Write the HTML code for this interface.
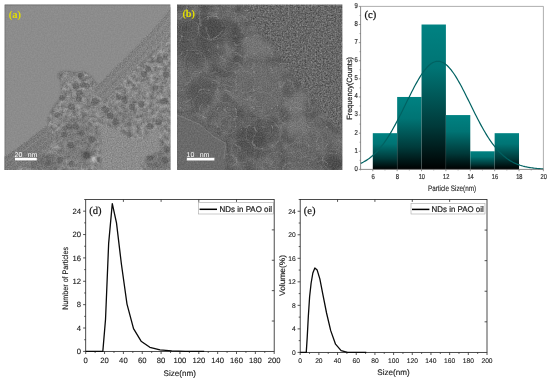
<!DOCTYPE html><html><head><meta charset="utf-8"><title>Figure</title><style>html,body{margin:0;padding:0;background:#fff}svg{display:block}text{font-family:"Liberation Sans",sans-serif;text-rendering:geometricPrecision}.ser{font-family:"Liberation Serif",serif}</style></head><body>
<svg width="550" height="382" viewBox="0 0 550 382">
<rect width="550" height="382" fill="#fff"/>
<defs>
<linearGradient id="tg" x1="0" y1="0" x2="0" y2="1"><stop offset="0" stop-color="#008282"/><stop offset="0.3" stop-color="#007474"/><stop offset="0.7" stop-color="#003a3a"/><stop offset="1" stop-color="#000"/></linearGradient>
<filter id="nA" x="0" y="0" width="100%" height="100%" color-interpolation-filters="sRGB"><feTurbulence type="fractalNoise" baseFrequency="0.7" numOctaves="2" seed="3" result="t"/><feColorMatrix in="t" type="matrix" values="1 0 0 0 0  1 0 0 0 0  1 0 0 0 0  0 0 0 0 1" result="g"/><feComposite in="SourceGraphic" in2="g" operator="arithmetic" k1="0" k2="1" k3="0.07" k4="-0.035" result="r"/><feComposite in="r" in2="SourceGraphic" operator="in"/></filter>
<filter id="nA2" x="0" y="0" width="100%" height="100%" color-interpolation-filters="sRGB"><feTurbulence type="fractalNoise" baseFrequency="0.8" numOctaves="2" seed="4" result="t"/><feColorMatrix in="t" type="matrix" values="1 0 0 0 0  1 0 0 0 0  1 0 0 0 0  0 0 0 0 1" result="g"/><feComposite in="SourceGraphic" in2="g" operator="arithmetic" k1="0" k2="1" k3="0.22" k4="-0.11" result="r"/><feComposite in="r" in2="SourceGraphic" operator="in"/></filter>
<filter id="nB" x="0" y="0" width="100%" height="100%" color-interpolation-filters="sRGB"><feTurbulence type="fractalNoise" baseFrequency="0.8" numOctaves="2" seed="11" result="t"/><feColorMatrix in="t" type="matrix" values="1 0 0 0 0  1 0 0 0 0  1 0 0 0 0  0 0 0 0 1" result="g"/><feComposite in="SourceGraphic" in2="g" operator="arithmetic" k1="0" k2="1" k3="0.2" k4="-0.1" result="r"/><feComposite in="r" in2="SourceGraphic" operator="in"/></filter>
<filter id="nB2" x="0" y="0" width="100%" height="100%" color-interpolation-filters="sRGB"><feTurbulence type="fractalNoise" baseFrequency="0.7" numOctaves="2" seed="12" result="t"/><feColorMatrix in="t" type="matrix" values="1 0 0 0 0  1 0 0 0 0  1 0 0 0 0  0 0 0 0 1" result="g"/><feComposite in="SourceGraphic" in2="g" operator="arithmetic" k1="0" k2="1" k3="0.14" k4="-0.07" result="r"/><feComposite in="r" in2="SourceGraphic" operator="in"/></filter>
<filter id="pA" x="-10%" y="-10%" width="120%" height="120%" color-interpolation-filters="sRGB"><feTurbulence type="fractalNoise" baseFrequency="0.22" numOctaves="2" seed="5" result="t"/><feColorMatrix in="t" type="matrix" values="0.32 0 0 0 0.365  0.32 0 0 0 0.365  0.32 0 0 0 0.365  0 0 0 0 1" result="g"/><feGaussianBlur in="SourceAlpha" stdDeviation="1.2" result="m"/><feComposite in="g" in2="m" operator="in"/></filter>
<filter id="pB" x="-10%" y="-10%" width="120%" height="120%" color-interpolation-filters="sRGB"><feTurbulence type="fractalNoise" baseFrequency="0.09" numOctaves="3" seed="21" result="t"/><feColorMatrix in="t" type="matrix" values="0.2 0 0 0 0.29500000000000004  0.2 0 0 0 0.29500000000000004  0.2 0 0 0 0.29500000000000004  0 0 0 0 1" result="g"/><feGaussianBlur in="SourceAlpha" stdDeviation="2.5" result="m"/><feComposite in="g" in2="m" operator="in"/></filter>
<filter id="vB" x="0" y="0" width="100%" height="100%" color-interpolation-filters="sRGB"><feTurbulence type="turbulence" baseFrequency="0.055" numOctaves="2" seed="7" result="t"/><feColorMatrix in="t" type="matrix" values="0 0 0 0 0.62  0 0 0 0 0.62  0 0 0 0 0.62  -5 0 0 0 0.45" result="g"/><feComposite in="g" in2="SourceGraphic" operator="in"/></filter>
<filter id="gB" x="-10%" y="-10%" width="120%" height="120%" color-interpolation-filters="sRGB"><feTurbulence type="fractalNoise" baseFrequency="0.6" numOctaves="2" seed="33" result="t"/><feColorMatrix in="t" type="matrix" values="0.36 0 0 0 0.22500000000000003  0.36 0 0 0 0.22500000000000003  0.36 0 0 0 0.22500000000000003  0 0 0 0 1" result="g"/><feGaussianBlur in="SourceAlpha" stdDeviation="1.5" result="m"/><feComposite in="g" in2="m" operator="in"/></filter>
<filter id="b05" x="-30%" y="-30%" width="160%" height="160%"><feGaussianBlur stdDeviation="0.5"/></filter>
<filter id="b1" x="-30%" y="-30%" width="160%" height="160%"><feGaussianBlur stdDeviation="1"/></filter>
<filter id="b2" x="-30%" y="-30%" width="160%" height="160%"><feGaussianBlur stdDeviation="2"/></filter>
<filter id="b3" x="-30%" y="-30%" width="160%" height="160%"><feGaussianBlur stdDeviation="3"/></filter>
<filter id="b4" x="-30%" y="-30%" width="160%" height="160%"><feGaussianBlur stdDeviation="4"/></filter>
<filter id="b8" x="-30%" y="-30%" width="160%" height="160%"><feGaussianBlur stdDeviation="8"/></filter>
<linearGradient id="bandg" gradientUnits="userSpaceOnUse" x1="10" y1="160" x2="165" y2="20"><stop offset="0" stop-color="#787878"/><stop offset="0.4" stop-color="#7e7e7e"/><stop offset="1" stop-color="#858585"/></linearGradient>
<clipPath id="cA"><rect x="4.6" y="4.5" width="165.8" height="165.5"/></clipPath>
<clipPath id="cB"><rect x="177" y="4.4" width="165.4" height="165.6"/></clipPath>
</defs>
<g clip-path="url(#cA)">
<g filter="url(#nA)">
<rect x="0" y="0" width="176" height="176" fill="#8c8c8c"/>
</g>
<g filter="url(#nA2)">
<path d="M-2,160 L4,156.5 L19.2,146 L38.4,131.5 L47.5,124 L56,118 L97.9,84.4 L108.7,73.5 L130.5,52 L152,30 L170,8.3 L176,0 L178,24 L170,33 L157,47 L141,62 L119.6,84 L100,104 L80,125 L60.5,141 L38,155 L17,170 L-2,182 Z" fill="url(#bandg)"/>
<path d="M-2,160 L4,156.5 L19.2,146 L38.4,131.5 L47.5,124 L56,118 L97.9,84.4 L108.7,73.5 L130.5,52 L152,30 L170,8.3 L176,0" fill="none" stroke="#9c9c9c" stroke-width="0.9" filter="url(#b05)"/>
<path d="M-1,161 L5,157.5 L20.2,147 L39.4,132.5 L48.5,125 L57,119 L98.9,85.4 L109.7,74.5 L131.5,53 L153,31 L171,9.3 L177,1" fill="none" stroke="#797979" stroke-width="0.9" filter="url(#b05)"/>
<path d="M0.52,162.52 L6.52,159.02 L21.72,148.52 L40.92,134.02 L50.02,126.52 L58.52,120.52 L100.42,86.92 L111.22,76.02 L133.02,54.52 L154.52,32.52 L172.52,10.82 L178.52,2.52" fill="none" stroke="#767676" stroke-width="1.6" opacity="0.38" filter="url(#b05)"/>
<path d="M2.6799999999999997,164.68 L8.68,161.18 L23.88,150.68 L43.08,136.18 L52.18,128.68 L60.68,122.68 L102.58000000000001,89.08000000000001 L113.38,78.18 L135.18,56.68 L156.68,34.68 L174.68,12.98 L180.68,4.68" fill="none" stroke="#8e8e8e" stroke-width="1.2" opacity="0.38" filter="url(#b05)"/>
<path d="M4.84,166.84 L10.84,163.34 L26.04,152.84 L45.239999999999995,138.34 L54.34,130.84 L62.84,124.84 L104.74000000000001,91.24000000000001 L115.54,80.34 L137.34,58.84 L158.84,36.84 L176.84,15.14 L182.84,6.84" fill="none" stroke="#767676" stroke-width="1.6" opacity="0.38" filter="url(#b05)"/>
<path d="M7.0,169.0 L13.0,165.5 L28.2,155.0 L47.4,140.5 L56.5,133.0 L65.0,127.0 L106.9,93.4 L117.7,82.5 L139.5,61.0 L161.0,39.0 L179.0,17.3 L185.0,9.0" fill="none" stroke="#8c8c8c" stroke-width="1.0" opacity="0.38" filter="url(#b05)"/>
<path d="M56.8,75 L60.7,71.8 L68.5,71 L76.4,72.6 L84.2,71.5 L90.5,75.7 L95.2,81.2 L97,84 L94,91 L103,102 L119.6,84 L141,62 L157,47 L170,33 L178,24 L178,178 L17,178 L17,170 L38,155 L50,147 L56,138 L49,126 L47.4,120 L49.7,113.4 L54.4,105.5 L59.9,99.2 L61.5,91.4 L60.7,80.4 Z" fill="#8d8d8d" filter="url(#b1)"/>
<g filter="url(#pA)"><path d="M56.8,75 L60.7,71.8 L68.5,71 L76.4,72.6 L84.2,71.5 L90.5,75.7 L95.2,81.2 L97,84 L94,91 L103,102 L119.6,84 L141,62 L157,47 L170,33 L178,24 L178,178 L17,178 L17,170 L38,155 L50,147 L56,138 L49,126 L47.4,120 L49.7,113.4 L54.4,105.5 L59.9,99.2 L61.5,91.4 L60.7,80.4 Z" fill="#000"/></g>
<path d="M-2,182 L17,170 L38,155 L60.5,141 L80,125 L100,104 L119.6,84 L141,62 L157,47 L170,33 L178,24" fill="none" stroke="#989898" stroke-width="0.8" filter="url(#b05)" opacity="0.7"/>
<ellipse cx="44" cy="163" rx="18" ry="10" fill="#666" opacity="0.65" filter="url(#b3)"/>
<ellipse cx="158" cy="162" rx="13" ry="11" fill="#666" opacity="0.6" filter="url(#b3)"/>
<ellipse cx="78" cy="140" rx="20" ry="24" fill="#6c6c6c" opacity="0.4" filter="url(#b3)"/>
<ellipse cx="120" cy="116" rx="18" ry="10" fill="#6c6c6c" opacity="0.3" filter="url(#b3)"/>
<g fill="#585858" opacity="0.55" filter="url(#b05)" stroke="#585858" stroke-width="0.6"><circle cx="81" cy="76" r="3"/><circle cx="76" cy="86" r="3"/><circle cx="83" cy="85" r="2.6"/><circle cx="87" cy="86" r="2.6"/><circle cx="79" cy="93" r="3"/><circle cx="62" cy="98" r="2.6"/><circle cx="72" cy="107" r="3"/><circle cx="57" cy="115" r="2.6"/><circle cx="95" cy="101" r="3"/><circle cx="124" cy="99" r="3"/><circle cx="119" cy="97" r="2.6"/><circle cx="132" cy="107" r="3"/><circle cx="144" cy="74" r="3"/><circle cx="148" cy="69" r="2.6"/><circle cx="106" cy="110" r="2.6"/><circle cx="110" cy="116" r="3"/><circle cx="141" cy="104" r="3"/><circle cx="69.4" cy="126.4" r="3"/><circle cx="75.7" cy="126.4" r="3"/><circle cx="70.5" cy="145" r="3.2"/><circle cx="104" cy="108.6" r="2.6"/><circle cx="115.5" cy="122" r="3"/><circle cx="123" cy="132.7" r="3"/><circle cx="129" cy="134.8" r="2.6"/><circle cx="125" cy="101" r="2.6"/><circle cx="150" cy="126.4" r="3"/><circle cx="158.4" cy="122" r="3"/><circle cx="164.7" cy="101" r="3"/><circle cx="160.5" cy="143" r="3"/><circle cx="150" cy="157.8" r="3"/><circle cx="164.7" cy="160" r="3"/><circle cx="166.8" cy="149.5" r="3"/><circle cx="78.8" cy="99" r="2.6"/><circle cx="93.5" cy="103.4" r="2.6"/><circle cx="160" cy="60" r="3"/><circle cx="166" cy="75" r="2.8"/><circle cx="155" cy="88" r="2.8"/><circle cx="60" cy="160" r="3"/><circle cx="72" cy="164" r="3"/><circle cx="48" cy="163" r="2.8"/><circle cx="100" cy="160" r="2.6"/><circle cx="92" cy="140" r="2.8"/><circle cx="82" cy="133" r="2.6"/><circle cx="64" cy="135" r="2.6"/></g>
<path d="M101,125 L119.6,130.5 L130.5,139 L143.5,141 L150,131 L158,131 L161,150 L143,158 L140,172 L101,172 Z" fill="#8c8c8c" filter="url(#b1)"/>
<circle cx="86.4" cy="155" r="4" fill="#525252" filter="url(#b1)"/>
<circle cx="93.7" cy="158.5" r="2.3" fill="#c8c8c8" filter="url(#b1)"/>
</g>
<path d="M4.9,170 V4.9 H170.4" fill="none" stroke="#666" stroke-width="0.9" opacity="0.85"/>
<rect x="15" y="157.8" width="21.8" height="2.6" fill="#fff"/>
<text x="14.6" y="157" font-size="7" fill="#fff" word-spacing="3.4" style="white-space:pre">20 nm</text>
<text class="ser" x="8.7" y="18.1" font-size="10.5" font-weight="bold" fill="#e4e000">(a)</text>
</g>
<g clip-path="url(#cB)"><g filter="url(#nB)">
<rect x="170" y="0" width="180" height="176" fill="#646464"/>
<g filter="url(#pB)"><rect x="170" y="0" width="180" height="176" fill="#000"/></g>
<ellipse cx="212" cy="28" rx="14" ry="12" fill="#4c4c4c" opacity="0.85" filter="url(#b3)"/>
<ellipse cx="235" cy="34" rx="5" ry="11" fill="#484848" opacity="0.8" filter="url(#b3)"/>
<ellipse cx="256" cy="47" rx="13" ry="12" fill="#787878" opacity="0.85" filter="url(#b3)"/>
<ellipse cx="201" cy="93" rx="13" ry="13" fill="#565656" opacity="0.8" filter="url(#b3)"/>
<ellipse cx="180" cy="86" rx="5" ry="26" fill="#707070" opacity="0.7" filter="url(#b3)"/>
<ellipse cx="260" cy="86" rx="26" ry="26" fill="#6e6e6e" opacity="0.75" filter="url(#b3)"/>
<ellipse cx="297" cy="104" rx="10" ry="11" fill="#7a7a7a" opacity="0.85" filter="url(#b3)"/>
<ellipse cx="290" cy="90" rx="4.5" ry="6" fill="#555" opacity="0.8" filter="url(#b3)"/>
<ellipse cx="308.5" cy="107.5" rx="3" ry="3.5" fill="#505050" opacity="0.8" filter="url(#b3)"/>
<ellipse cx="251" cy="140" rx="15" ry="17" fill="#4e4e4e" opacity="0.8" filter="url(#b3)"/>
<ellipse cx="271" cy="126" rx="9" ry="8" fill="#545454" opacity="0.75" filter="url(#b3)"/>
<ellipse cx="299" cy="125" rx="12" ry="11" fill="#787878" opacity="0.8" filter="url(#b3)"/>
<ellipse cx="318" cy="140" rx="14" ry="14" fill="#6c6c6c" opacity="0.7" filter="url(#b3)"/>
<ellipse cx="334" cy="163" rx="10" ry="9" fill="#464646" opacity="0.85" filter="url(#b3)"/>
<ellipse cx="300" cy="158" rx="14" ry="10" fill="#6a6a6a" opacity="0.6" filter="url(#b3)"/>
<ellipse cx="222" cy="112" rx="10" ry="8" fill="#686868" opacity="0.6" filter="url(#b3)"/>
<ellipse cx="198" cy="40" rx="24" ry="26" fill="#4e4e4e" opacity="0.5" filter="url(#b3)"/>
<ellipse cx="204.4" cy="104.4" rx="11" ry="12" transform="rotate(0 204.4 104.4)" fill="none" stroke="#909090" stroke-width="0.7" opacity="0.4" filter="url(#b05)"/>
<ellipse cx="224.5" cy="93.5" rx="9" ry="9" transform="rotate(0 224.5 93.5)" fill="none" stroke="#909090" stroke-width="0.7" opacity="0.4" filter="url(#b05)"/>
<ellipse cx="212" cy="117.5" rx="9" ry="7" transform="rotate(20 212 117.5)" fill="none" stroke="#909090" stroke-width="0.7" opacity="0.4" filter="url(#b05)"/>
<ellipse cx="288" cy="92" rx="7.5" ry="7.5" transform="rotate(0 288 92)" fill="none" stroke="#909090" stroke-width="0.7" opacity="0.4" filter="url(#b05)"/>
<ellipse cx="308.7" cy="109" rx="4" ry="4" transform="rotate(0 308.7 109)" fill="none" stroke="#909090" stroke-width="0.7" opacity="0.4" filter="url(#b05)"/>
<ellipse cx="291" cy="113" rx="14" ry="11" transform="rotate(-20 291 113)" fill="none" stroke="#909090" stroke-width="0.7" opacity="0.4" filter="url(#b05)"/>
<ellipse cx="263" cy="134" rx="17" ry="16" transform="rotate(0 263 134)" fill="none" stroke="#909090" stroke-width="0.7" opacity="0.4" filter="url(#b05)"/>
<ellipse cx="243" cy="150.7" rx="12" ry="12" transform="rotate(0 243 150.7)" fill="none" stroke="#909090" stroke-width="0.7" opacity="0.4" filter="url(#b05)"/>
<ellipse cx="263" cy="104" rx="14" ry="12" transform="rotate(10 263 104)" fill="none" stroke="#909090" stroke-width="0.7" opacity="0.4" filter="url(#b05)"/>
<ellipse cx="311" cy="144.5" rx="12" ry="15" transform="rotate(0 311 144.5)" fill="none" stroke="#909090" stroke-width="0.7" opacity="0.4" filter="url(#b05)"/>
<ellipse cx="334" cy="160" rx="11" ry="11" transform="rotate(0 334 160)" fill="none" stroke="#909090" stroke-width="0.7" opacity="0.4" filter="url(#b05)"/>
<ellipse cx="212" cy="28" rx="14" ry="12" transform="rotate(0 212 28)" fill="none" stroke="#909090" stroke-width="0.7" opacity="0.4" filter="url(#b05)"/>
<ellipse cx="256" cy="47" rx="13" ry="12" transform="rotate(30 256 47)" fill="none" stroke="#909090" stroke-width="0.7" opacity="0.4" filter="url(#b05)"/>
<ellipse cx="232" cy="62" rx="12" ry="10" transform="rotate(0 232 62)" fill="none" stroke="#909090" stroke-width="0.7" opacity="0.4" filter="url(#b05)"/>
<ellipse cx="195" cy="62" rx="11" ry="12" transform="rotate(0 195 62)" fill="none" stroke="#909090" stroke-width="0.7" opacity="0.4" filter="url(#b05)"/>
<ellipse cx="245" cy="82" rx="10" ry="11" transform="rotate(0 245 82)" fill="none" stroke="#909090" stroke-width="0.7" opacity="0.4" filter="url(#b05)"/>
<ellipse cx="300" cy="150" rx="9" ry="8" transform="rotate(0 300 150)" fill="none" stroke="#909090" stroke-width="0.7" opacity="0.4" filter="url(#b05)"/>
<ellipse cx="276" cy="160" rx="10" ry="8" transform="rotate(0 276 160)" fill="none" stroke="#909090" stroke-width="0.7" opacity="0.4" filter="url(#b05)"/>
<ellipse cx="190" cy="30" rx="9" ry="10" transform="rotate(0 190 30)" fill="none" stroke="#909090" stroke-width="0.7" opacity="0.4" filter="url(#b05)"/>
<ellipse cx="228" cy="125" rx="8" ry="9" transform="rotate(0 228 125)" fill="none" stroke="#909090" stroke-width="0.7" opacity="0.4" filter="url(#b05)"/>
<g filter="url(#vB)"><path d="M170,0 L238,0 L246,15 L270,45 L300,85 L320,110 L350,140 L350,176 L227,176 L224,159 L226,143.5 L214,137 L199,124 L177,115 L170,114 Z" fill="#000"/></g>
<g filter="url(#gB)"><path d="M238,0 L246,15 L270,45 L300,85 L320,110 L350,140 L350,0 Z" fill="#000"/></g>
</g>
<g filter="url(#nB2)"><path d="M170,114 L177,115 L199,124 L214,137 L226,143.5 L224,159 L227,176 L170,176 Z" fill="#6a6a6a" filter="url(#b05)"/></g>
<path d="M177,115 L199,124 L214,137 L226,143.5 L224,159" fill="none" stroke="#939393" stroke-width="0.8" opacity="0.7" filter="url(#b05)"/>
<rect x="186.8" y="157.8" width="27.6" height="2.7" fill="#fff"/>
<text x="186.6" y="157" font-size="7" fill="#fff" word-spacing="3.4" style="white-space:pre">10 nm</text>
<text class="ser" x="182.4" y="17.2" font-size="10.3" font-weight="bold" fill="#e4e000">(b)</text>
</g>
<rect x="372.79" y="133.18" width="24.37" height="36.22" fill="url(#tg)"/>
<rect x="397.16" y="96.96" width="24.37" height="72.44" fill="url(#tg)"/>
<rect x="421.53" y="24.51" width="24.37" height="144.89" fill="url(#tg)"/>
<rect x="445.91" y="115.07" width="24.37" height="54.33" fill="url(#tg)"/>
<rect x="470.28" y="151.29" width="24.37" height="18.11" fill="url(#tg)"/>
<rect x="494.65" y="133.18" width="24.37" height="36.22" fill="url(#tg)"/>
<line x1="397.16" y1="133.18" x2="397.16" y2="169.4" stroke="#5a9a9a" stroke-opacity="0.22" stroke-width="0.5"/>
<line x1="421.53" y1="96.96" x2="421.53" y2="169.4" stroke="#5a9a9a" stroke-opacity="0.22" stroke-width="0.5"/>
<line x1="445.91" y1="115.07" x2="445.91" y2="169.4" stroke="#5a9a9a" stroke-opacity="0.22" stroke-width="0.5"/>
<line x1="470.28" y1="151.29" x2="470.28" y2="169.4" stroke="#5a9a9a" stroke-opacity="0.22" stroke-width="0.5"/>
<line x1="494.65" y1="151.29" x2="494.65" y2="169.4" stroke="#5a9a9a" stroke-opacity="0.22" stroke-width="0.5"/>
<polyline points="360.60,163.41 361.82,162.84 363.04,162.23 364.26,161.57 365.47,160.87 366.69,160.12 367.91,159.31 369.13,158.45 370.35,157.54 371.57,156.56 372.79,155.53 374.01,154.43 375.22,153.27 376.44,152.05 377.66,150.76 378.88,149.40 380.10,147.97 381.32,146.48 382.54,144.91 383.75,143.28 384.97,141.58 386.19,139.81 387.41,137.97 388.63,136.07 389.85,134.10 391.07,132.07 392.29,129.97 393.50,127.82 394.72,125.62 395.94,123.37 397.16,121.06 398.38,118.72 399.60,116.34 400.82,113.93 402.03,111.49 403.25,109.03 404.47,106.55 405.69,104.07 406.91,101.59 408.13,99.11 409.35,96.65 410.57,94.20 411.78,91.79 413.00,89.42 414.22,87.09 415.44,84.82 416.66,82.60 417.88,80.46 419.10,78.39 420.31,76.41 421.53,74.53 422.75,72.74 423.97,71.06 425.19,69.50 426.41,68.06 427.63,66.74 428.85,65.55 430.06,64.50 431.28,63.60 432.50,62.84 433.72,62.22 434.94,61.76 436.16,61.45 437.38,61.30 438.59,61.30 439.81,61.45 441.03,61.76 442.25,62.22 443.47,62.84 444.69,63.60 445.91,64.50 447.13,65.55 448.34,66.74 449.56,68.06 450.78,69.50 452.00,71.06 453.22,72.74 454.44,74.53 455.66,76.41 456.87,78.39 458.09,80.46 459.31,82.60 460.53,84.82 461.75,87.09 462.97,89.42 464.19,91.79 465.41,94.20 466.62,96.65 467.84,99.11 469.06,101.59 470.28,104.07 471.50,106.55 472.72,109.03 473.94,111.49 475.15,113.93 476.37,116.34 477.59,118.72 478.81,121.06 480.03,123.37 481.25,125.62 482.47,127.82 483.69,129.97 484.90,132.07 486.12,134.10 487.34,136.07 488.56,137.97 489.78,139.81 491.00,141.58 492.22,143.28 493.43,144.91 494.65,146.48 495.87,147.97 497.09,149.40 498.31,150.76 499.53,152.05 500.75,153.27 501.97,154.43 503.18,155.53 504.40,156.56 505.62,157.54 506.84,158.45 508.06,159.31 509.28,160.12 510.50,160.87 511.71,161.57 512.93,162.23 514.15,162.84 515.37,163.41 516.59,163.93 517.81,164.42 519.03,164.87 520.25,165.29 521.46,165.67 522.68,166.02 523.90,166.34 525.12,166.64 526.34,166.91 527.56,167.16 528.78,167.38 529.99,167.59 531.21,167.78 532.43,167.95 533.65,168.10 534.87,168.24 536.09,168.37 537.31,168.48 538.53,168.58 539.74,168.67 540.96,168.76 542.18,168.83 543.40,168.90" fill="none" stroke="#006262" stroke-width="1.2"/>
<path d="M360.6,6.4 H543.4 V169.4" fill="none" stroke="#8c8c8c" stroke-width="0.7"/>
<path d="M360.6,6.4 V169.4 H543.4" fill="none" stroke="#6e6e6e" stroke-width="0.8"/>
<path d="M360.6,169.40 h-1.8 M360.6,160.34 h-1.0 M360.6,151.29 h-1.8 M360.6,142.23 h-1.0 M360.6,133.18 h-1.8 M360.6,124.12 h-1.0 M360.6,115.07 h-1.8 M360.6,106.01 h-1.0 M360.6,96.96 h-1.8 M360.6,87.90 h-1.0 M360.6,78.84 h-1.8 M360.6,69.79 h-1.0 M360.6,60.73 h-1.8 M360.6,51.68 h-1.0 M360.6,42.62 h-1.8 M360.6,33.57 h-1.0 M360.6,24.51 h-1.8 M360.6,15.46 h-1.0 M360.6,6.40 h-1.8 M360.60,169.4 v1.0 M372.79,169.4 v1.8 M384.97,169.4 v1.0 M397.16,169.4 v1.8 M409.35,169.4 v1.0 M421.53,169.4 v1.8 M433.72,169.4 v1.0 M445.91,169.4 v1.8 M458.09,169.4 v1.0 M470.28,169.4 v1.8 M482.47,169.4 v1.0 M494.65,169.4 v1.8 M506.84,169.4 v1.0 M519.03,169.4 v1.8 M531.21,169.4 v1.0 M543.40,169.4 v1.8" stroke="#6e6e6e" stroke-width="0.7" fill="none"/>
<g font-size="7.2" fill="#333" stroke="#333" stroke-width="0.2">
<text x="357.70000000000005" y="170.80" text-anchor="end" textLength="3.3" lengthAdjust="spacingAndGlyphs">0</text>
<text x="357.70000000000005" y="152.69" text-anchor="end" textLength="3.3" lengthAdjust="spacingAndGlyphs">1</text>
<text x="357.70000000000005" y="134.58" text-anchor="end" textLength="3.3" lengthAdjust="spacingAndGlyphs">2</text>
<text x="357.70000000000005" y="116.47" text-anchor="end" textLength="3.3" lengthAdjust="spacingAndGlyphs">3</text>
<text x="357.70000000000005" y="98.36" text-anchor="end" textLength="3.3" lengthAdjust="spacingAndGlyphs">4</text>
<text x="357.70000000000005" y="80.24" text-anchor="end" textLength="3.3" lengthAdjust="spacingAndGlyphs">5</text>
<text x="357.70000000000005" y="62.13" text-anchor="end" textLength="3.3" lengthAdjust="spacingAndGlyphs">6</text>
<text x="357.70000000000005" y="44.02" text-anchor="end" textLength="3.3" lengthAdjust="spacingAndGlyphs">7</text>
<text x="357.70000000000005" y="25.91" text-anchor="end" textLength="3.3" lengthAdjust="spacingAndGlyphs">8</text>
<text x="357.70000000000005" y="7.80" text-anchor="end" textLength="3.3" lengthAdjust="spacingAndGlyphs">9</text>
<text x="373.09" y="179.00" text-anchor="middle" textLength="3.3" lengthAdjust="spacingAndGlyphs">6</text>
<text x="397.46" y="179.00" text-anchor="middle" textLength="3.3" lengthAdjust="spacingAndGlyphs">8</text>
<text x="421.83" y="179.00" text-anchor="middle" textLength="6.3" lengthAdjust="spacingAndGlyphs">10</text>
<text x="446.21" y="179.00" text-anchor="middle" textLength="6.3" lengthAdjust="spacingAndGlyphs">12</text>
<text x="470.58" y="179.00" text-anchor="middle" textLength="6.3" lengthAdjust="spacingAndGlyphs">14</text>
<text x="494.95" y="179.00" text-anchor="middle" textLength="6.3" lengthAdjust="spacingAndGlyphs">16</text>
<text x="519.33" y="179.00" text-anchor="middle" textLength="6.3" lengthAdjust="spacingAndGlyphs">18</text>
<text x="543.70" y="179.00" text-anchor="middle" textLength="6.3" lengthAdjust="spacingAndGlyphs">20</text>
</g>
<text x="452" y="190.6" font-size="8" fill="#2a2a2a" stroke="#2a2a2a" stroke-width="0.15" text-anchor="middle" textLength="48" lengthAdjust="spacingAndGlyphs">Particle Size(nm)</text>
<text transform="translate(351.8,88.4) rotate(-90)" font-size="7.6" fill="#1e1e1e" stroke="#1e1e1e" stroke-width="0.2" text-anchor="middle" textLength="62.8" lengthAdjust="spacingAndGlyphs">Frequency(Counts)</text>
<text class="ser" x="364.5" y="18.2" font-size="10.5" fill="#111" stroke="#111" stroke-width="0.25">(c)</text>
<rect x="198.6" y="202.6" width="75.00" height="11.40" fill="#fff" stroke="#a8a8a8" stroke-width="0.6"/>
<line x1="199.6" y1="209.3" x2="217" y2="209.3" stroke="#000" stroke-width="1.5"/>
<text x="219.6" y="211.9" font-size="8.2" fill="#1a1a1a" stroke="#1a1a1a" stroke-width="0.2" textLength="52.4" lengthAdjust="spacingAndGlyphs">NDs in PAO oil</text>
<rect x="85.7" y="199.5" width="188.50" height="151.90" fill="none" stroke="#2c2c2c" stroke-width="0.85"/>
<path d="M85.7,351.40 h-2.6 M85.7,339.72 h-1.5 M85.7,328.03 h-2.6 M85.7,316.35 h-1.5 M85.7,304.66 h-2.6 M85.7,292.98 h-1.5 M85.7,281.29 h-2.6 M85.7,269.61 h-1.5 M85.7,257.92 h-2.6 M85.7,246.24 h-1.5 M85.7,234.55 h-2.6 M85.7,222.87 h-1.5 M85.7,211.18 h-2.6 M85.7,199.50 h-1.5 M85.70,351.4 v2.6 M95.12,351.4 v1.5 M104.55,351.4 v2.6 M113.97,351.4 v1.5 M123.40,351.4 v2.6 M132.82,351.4 v1.5 M142.25,351.4 v2.6 M151.68,351.4 v1.5 M161.10,351.4 v2.6 M170.53,351.4 v1.5 M179.95,351.4 v2.6 M189.38,351.4 v1.5 M198.80,351.4 v2.6 M208.23,351.4 v1.5 M217.65,351.4 v2.6 M227.07,351.4 v1.5 M236.50,351.4 v2.6 M245.93,351.4 v1.5 M255.35,351.4 v2.6 M264.77,351.4 v1.5 M274.20,351.4 v2.6 M123.40,199.5 v2.4 M274.2,229.88 h-2.4 M161.10,199.5 v2.4 M274.2,260.26 h-2.4 M198.80,199.5 v2.4 M274.2,290.64 h-2.4 M236.50,199.5 v2.4 M274.2,321.02 h-2.4" stroke="#2c2c2c" stroke-width="0.8" fill="none"/>
<g font-size="7.7" fill="#161616" stroke="#161616" stroke-width="0.1">
<text x="81.10000000000001" y="354.17" text-anchor="end">0</text>
<text x="81.10000000000001" y="330.80" text-anchor="end">4</text>
<text x="81.10000000000001" y="307.43" text-anchor="end">8</text>
<text x="81.10000000000001" y="284.06" text-anchor="end">12</text>
<text x="81.10000000000001" y="260.70" text-anchor="end">16</text>
<text x="81.10000000000001" y="237.33" text-anchor="end">20</text>
<text x="81.10000000000001" y="213.96" text-anchor="end">24</text>
<text x="85.70" y="363.3" text-anchor="middle">0</text>
<text x="104.55" y="363.3" text-anchor="middle">20</text>
<text x="123.40" y="363.3" text-anchor="middle">40</text>
<text x="142.25" y="363.3" text-anchor="middle">60</text>
<text x="161.10" y="363.3" text-anchor="middle">80</text>
<text x="179.95" y="363.3" text-anchor="middle">100</text>
<text x="198.80" y="363.3" text-anchor="middle">120</text>
<text x="217.65" y="363.3" text-anchor="middle">140</text>
<text x="236.50" y="363.3" text-anchor="middle">160</text>
<text x="255.35" y="363.3" text-anchor="middle">180</text>
<text x="274.20" y="363.3" text-anchor="middle">200</text>
</g>
<text x="179.8" y="375.6" font-size="8.1" fill="#1e1e1e" stroke="#1e1e1e" stroke-width="0.15" text-anchor="middle">Size(nm)</text>
<text transform="translate(68.3,278.4) rotate(-90)" font-size="8" fill="#1e1e1e" stroke="#1e1e1e" stroke-width="0.15" text-anchor="middle" textLength="62.8" lengthAdjust="spacingAndGlyphs">Number of Particles</text>
<text class="ser" x="89.3" y="213.7" font-size="10.6" fill="#111" stroke="#111" stroke-width="0.2">(d)</text>
<polyline points="85.70,351.40 102.83,351.40 105.53,319.27 108.66,243.32 112.29,203.59 116.49,222.87 121.36,263.77 127.00,304.08 133.53,328.62 141.09,341.18 149.85,347.31 159.99,349.94 171.73,350.93 185.32,351.40 204.17,351.40" fill="none" stroke="#0a0a0a" stroke-width="1.3" stroke-linejoin="round"/>
<rect x="411" y="203.6" width="74.00" height="10.40" fill="#fff" stroke="#a8a8a8" stroke-width="0.6"/>
<line x1="412" y1="209.4" x2="429.4" y2="209.4" stroke="#000" stroke-width="1.5"/>
<text x="431.6" y="212.1" font-size="8.2" fill="#1a1a1a" stroke="#1a1a1a" stroke-width="0.2" textLength="52.2" lengthAdjust="spacingAndGlyphs">NDs in PAO oil</text>
<rect x="300.2" y="199.5" width="186.80" height="152.90" fill="none" stroke="#2c2c2c" stroke-width="0.85"/>
<path d="M300.2,352.40 h-2.6 M300.2,340.64 h-1.5 M300.2,328.88 h-2.6 M300.2,317.12 h-1.5 M300.2,305.35 h-2.6 M300.2,293.59 h-1.5 M300.2,281.83 h-2.6 M300.2,270.07 h-1.5 M300.2,258.31 h-2.6 M300.2,246.55 h-1.5 M300.2,234.78 h-2.6 M300.2,223.02 h-1.5 M300.2,211.26 h-2.6 M300.2,199.50 h-1.5 M300.20,352.4 v2.6 M309.54,352.4 v1.5 M318.88,352.4 v2.6 M328.22,352.4 v1.5 M337.56,352.4 v2.6 M346.90,352.4 v1.5 M356.24,352.4 v2.6 M365.58,352.4 v1.5 M374.92,352.4 v2.6 M384.26,352.4 v1.5 M393.60,352.4 v2.6 M402.94,352.4 v1.5 M412.28,352.4 v2.6 M421.62,352.4 v1.5 M430.96,352.4 v2.6 M440.30,352.4 v1.5 M449.64,352.4 v2.6 M458.98,352.4 v1.5 M468.32,352.4 v2.6 M477.66,352.4 v1.5 M487.00,352.4 v2.6 M337.56,199.5 v2.4 M487,230.08 h-2.4 M374.92,199.5 v2.4 M487,260.66 h-2.4 M412.28,199.5 v2.4 M487,291.24 h-2.4 M449.64,199.5 v2.4 M487,321.82 h-2.4" stroke="#2c2c2c" stroke-width="0.8" fill="none"/>
<g font-size="6.7" fill="#161616" stroke="#161616" stroke-width="0.1">
<text x="295.8" y="354.81" text-anchor="end">0</text>
<text x="295.8" y="331.29" text-anchor="end">4</text>
<text x="295.8" y="307.77" text-anchor="end">8</text>
<text x="295.8" y="284.24" text-anchor="end">12</text>
<text x="295.8" y="260.72" text-anchor="end">16</text>
<text x="295.8" y="237.20" text-anchor="end">20</text>
<text x="295.8" y="213.67" text-anchor="end">24</text>
<text x="300.20" y="363.2" text-anchor="middle">0</text>
<text x="318.88" y="363.2" text-anchor="middle">20</text>
<text x="337.56" y="363.2" text-anchor="middle">40</text>
<text x="356.24" y="363.2" text-anchor="middle">60</text>
<text x="374.92" y="363.2" text-anchor="middle">80</text>
<text x="393.60" y="363.2" text-anchor="middle">100</text>
<text x="412.28" y="363.2" text-anchor="middle">120</text>
<text x="430.96" y="363.2" text-anchor="middle">140</text>
<text x="449.64" y="363.2" text-anchor="middle">160</text>
<text x="468.32" y="363.2" text-anchor="middle">180</text>
<text x="487.00" y="363.2" text-anchor="middle">200</text>
</g>
<text x="393.5" y="375.4" font-size="8.1" fill="#1e1e1e" stroke="#1e1e1e" stroke-width="0.15" text-anchor="middle">Size(nm)</text>
<text transform="translate(284.6,275.5) rotate(-90)" font-size="8" fill="#1e1e1e" stroke="#1e1e1e" stroke-width="0.15" text-anchor="middle" textLength="41" lengthAdjust="spacingAndGlyphs">Volume(%)</text>
<text class="ser" x="303.8" y="213.7" font-size="10.6" fill="#111" stroke="#111" stroke-width="0.2">(e)</text>
<polyline points="300.20,352.40 306.27,352.40 307.23,337.11 308.35,315.94 309.63,296.53 311.13,283.01 312.85,273.01 314.85,268.01 317.17,270.07 319.85,278.89 322.95,294.77 326.55,313.00 330.71,330.64 335.54,344.17 341.13,350.64 347.60,352.40 366.28,352.40" fill="none" stroke="#0a0a0a" stroke-width="1.3" stroke-linejoin="round"/>
</svg></body></html>
